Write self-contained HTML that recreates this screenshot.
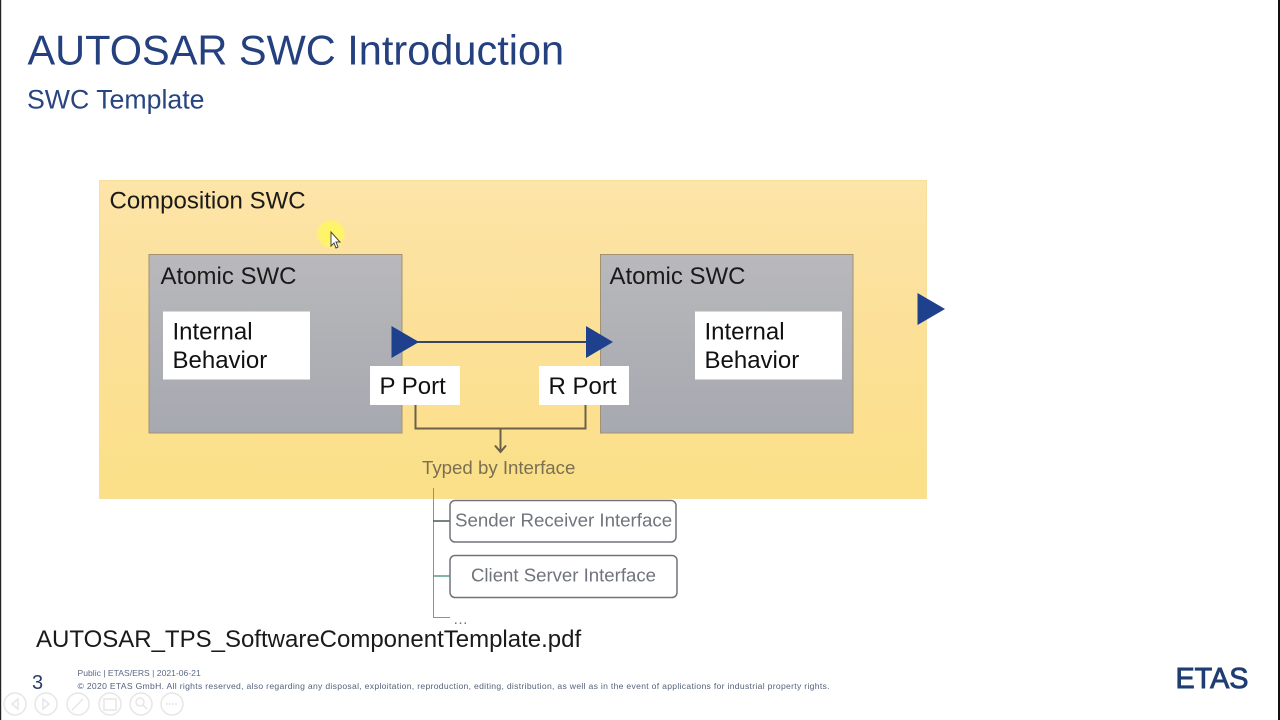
<!DOCTYPE html>
<html><head><meta charset="utf-8"><style>
html,body{margin:0;padding:0;background:#fff}
svg{display:block}
text{font-family:"Liberation Sans",sans-serif}
</style></head><body>
<svg width="1280" height="720" viewBox="0 0 1280 720" xmlns="http://www.w3.org/2000/svg">
<defs>
<linearGradient id="y" x1="0" y1="0" x2="0" y2="1"><stop offset="0" stop-color="#fde4a8"/><stop offset="0.5" stop-color="#fce097"/><stop offset="1" stop-color="#fbe088"/></linearGradient>
<linearGradient id="g" x1="0" y1="0" x2="0" y2="1"><stop offset="0" stop-color="#b9b9bc"/><stop offset="0.5" stop-color="#afb0b5"/><stop offset="1" stop-color="#a7a9b1"/></linearGradient>
<radialGradient id="h"><stop offset="0" stop-color="#fff45c"/><stop offset="0.8" stop-color="#fff36e"/><stop offset="1" stop-color="#fff26a" stop-opacity="0"/></radialGradient>
</defs>
<rect width="1280" height="720" fill="#fff"/>
<rect x="0" y="0" width="1.200" height="720" fill="#222"/>
<rect x="1278" y="0" width="2" height="720" fill="#111"/>
<text x="27.500" y="64.500" font-size="41.500" fill="#24407f">AUTOSAR SWC Introduction</text>
<text x="27" y="108.500" font-size="26.700" fill="#28457f">SWC Template</text>

<rect x="99.500" y="180.500" width="827" height="318" fill="url(#y)" stroke="#f5e09c"/>
<text x="109.500" y="208.500" font-size="24" fill="#1a1a1a">Composition SWC</text>
<circle cx="331" cy="234" r="15" fill="url(#h)"/>
<path d="M331 232v14l3-3 2 5 2-1-2-5h4z" fill="#fff" stroke="#444" stroke-width="1"/>

<rect x="149" y="254.500" width="253" height="178.500" fill="url(#g)" stroke="#a39272"/>
<rect x="600.500" y="254.500" width="252.500" height="178.500" fill="url(#g)" stroke="#a39272"/>
<text x="160.500" y="284" font-size="24" fill="#1a1a1a">Atomic SWC</text>
<text x="609.500" y="284" font-size="24" fill="#1a1a1a">Atomic SWC</text>
<rect x="163" y="311.500" width="147" height="68" fill="#fff"/>
<rect x="695" y="311.500" width="147" height="68" fill="#fff"/>
<text font-size="24" fill="#111"><tspan x="172.500" y="339.500">Internal</tspan><tspan x="172.500" y="368">Behavior</tspan></text>
<text font-size="24" fill="#111"><tspan x="704.500" y="339.500">Internal</tspan><tspan x="704.500" y="368">Behavior</tspan></text>

<line x1="415" y1="342" x2="590" y2="342" stroke="#3a4560" stroke-width="2"/>
<path d="M391.500 326L419 342L391.500 358Z" fill="#1f408c"/>
<path d="M586 326L613 342L586 358Z" fill="#1f408c"/>
<path d="M917.500 293L945 309L917.500 325Z" fill="#1f408c"/>

<rect x="370" y="366" width="90" height="39" fill="#fff"/>
<rect x="539" y="366" width="90" height="39" fill="#fff"/>
<text x="379.500" y="394" font-size="24" fill="#111">P Port</text>
<text x="548.500" y="394" font-size="24" fill="#111">R Port</text>

<path d="M415.500 405V428.500H585.500V405" fill="none" stroke="#6b6048" stroke-width="2"/>
<path d="M500.500 429V451M495 445.500L500.500 452L506 445.500" fill="none" stroke="#6b6048" stroke-width="2"/>
<text x="422" y="474" font-size="18.650" fill="#7b6f52">Typed by Interface</text>

<path d="M433.500 488V617.500H450" fill="none" stroke="#8d9291" stroke-width="1"/>
<path d="M433 521H450" stroke="#4a5a5a" stroke-width="1.500"/>
<path d="M433 576H450" stroke="#5f9a8a" stroke-width="1.500"/>
<rect x="450" y="500.500" width="226" height="41.500" rx="5" fill="#fff" stroke="#70747a" stroke-width="1.500"/>
<rect x="450" y="555.500" width="227" height="42" rx="5" fill="#fff" stroke="#70747a" stroke-width="1.500"/>
<text x="455" y="526.500" font-size="18.700" fill="#70747c">Sender Receiver Interface</text>
<text x="471" y="581.500" font-size="18.600" fill="#70747c">Client Server Interface</text>
<text x="453" y="624" font-size="15" fill="#70747c">…</text>

<text x="36" y="647" font-size="24" fill="#1a1a1a">AUTOSAR_TPS_SoftwareComponentTemplate.pdf</text>

<text x="32" y="689" font-size="20" fill="#2a3c66">3</text>
<text x="77.500" y="676" font-size="8.600" fill="#5a6a85">Public | ETAS/ERS | 2021-06-21</text>
<text x="77.500" y="689" font-size="8.600" fill="#55627d" textLength="752">© 2020 ETAS GmbH. All rights reserved, also regarding any disposal, exploitation, reproduction, editing, distribution, as well as in the event of applications for industrial property rights.</text>

<text x="1175.500" y="688" font-size="29" fill="#1f3d72" stroke="#1f3d72" stroke-width="0.900" textLength="73" lengthAdjust="spacingAndGlyphs">ETAS</text>

<g fill="none" stroke="#e6e6e6" stroke-width="1.500">
<circle cx="15" cy="704" r="11"/><path d="M18 699l-6 5 6 5z"/>
<circle cx="46" cy="704" r="11"/><path d="M43 699l6 5-6 5z"/>
<circle cx="78" cy="704" r="11"/><path d="M72 710l11-11"/>
<circle cx="110" cy="704" r="11"/><rect x="104" y="699" width="12" height="11"/>
<circle cx="141" cy="704" r="11"/><circle cx="140" cy="702" r="4"/><path d="M143 705l4 4"/>
<circle cx="172" cy="704" r="11"/><path d="M166 704h12" stroke-dasharray="2 1"/>
</g>
</svg>
</body></html>
